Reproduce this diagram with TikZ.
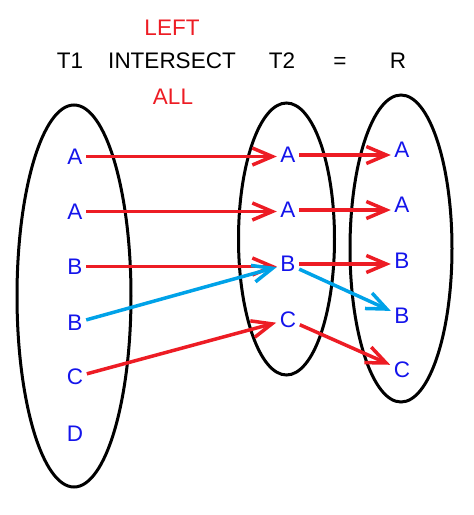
\documentclass[tikz,border=0pt]{standalone}
\usepackage{fontspec}
\setmainfont{Liberation Sans}
\usetikzlibrary{arrows.meta}
\definecolor{pred}{RGB}{237,28,36}
\definecolor{pblue}{RGB}{20,20,235}
\definecolor{plight}{RGB}{0,162,232}
\begin{document}
\begin{tikzpicture}[x=1pt,y=-1pt,
  title/.style={font=\fontsize{22.5}{26}\selectfont, anchor=base, inner sep=0pt},
  letter/.style={font=\fontsize{22.5}{26}\selectfont, text=pblue, inner sep=3.5pt},
  set/.style={draw=black, line width=3pt},
  link/.style={line width=3.5pt, -{Straight Barb[length=20pt,width=17pt]}},
  redlink/.style={link, draw=pred},
  bluelink/.style={link, draw=plight}]
\useasboundingbox (0,0) rectangle (474,515);
% titles
\node[title, text=pred] (tLeft) at (172,35) {LEFT};
\node[title] (tT1) at (70,68) {T1};
\node[title] (tInt) at (172,68) {INTERSECT};
\node[title] (tT2) at (282,68) {T2};
\node[title] (tEq) at (340,68) {=};
\node[title] (tR) at (398,68) {R};
\node[title, text=pred] (tAll) at (173,104) {ALL};
% sets
\draw[set] (74,296) ellipse [x radius=57pt, y radius=191pt];
\draw[set] (286.5,239) ellipse [x radius=48pt, y radius=136pt];
\draw[set] (401,248.5) ellipse [x radius=51pt, y radius=153.5pt];
% T1
\node[letter] (l1) at (75,156.5) {A};
\node[letter] (l2) at (75,211.5) {A};
\node[letter] (l3) at (75,266.5) {B};
\node[letter] (l4) at (75,323) {B};
\node[letter] (l5) at (75,377) {C};
\node[letter] (l6) at (75,433.5) {D};
% T2
\node[letter] (m1) at (288,155) {A};
\node[letter] (m2) at (288,210) {A};
\node[letter] (m3) at (288,264) {B};
\node[letter] (m4) at (288,319.5) {C};
% R
\node[letter] (r1) at (402,150) {A};
\node[letter] (r2) at (402,205) {A};
\node[letter] (r3) at (402,260.5) {B};
\node[letter] (r4) at (402,316) {B};
\node[letter] (r5) at (402,370) {C};
% links
\draw[redlink] (l1.east) -- (l1.east -| m1.west);
\draw[redlink] (l2.east) -- (l2.east -| m2.west);
\draw[redlink] (l3.east) -- (l3.east -| m3.west);
\draw[bluelink] (l4) -- (m3);
\draw[redlink] (l5) -- (m4);
\draw[redlink] (m1.east) -- (m1.east -| r1.west);
\draw[redlink] (m2.east) -- (m2.east -| r2.west);
\draw[redlink] (m3.east) -- (m3.east -| r3.west);
\draw[bluelink] (m3) -- (r4);
\draw[redlink] (m4) -- (r5);
\end{tikzpicture}
\end{document}
